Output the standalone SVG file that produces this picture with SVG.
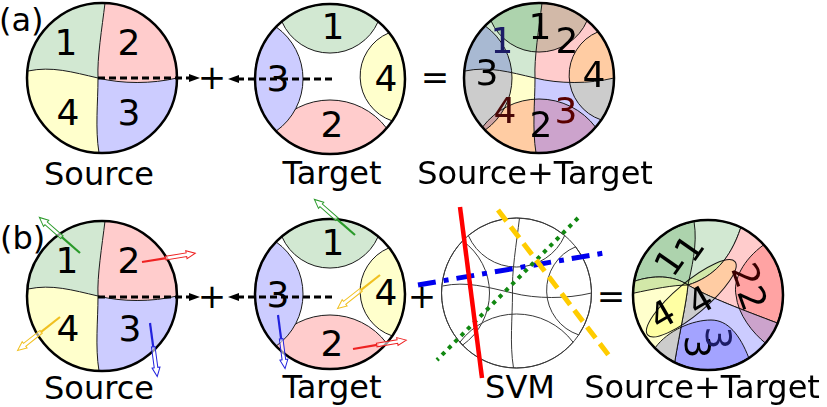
<svg xmlns="http://www.w3.org/2000/svg" width="827" height="407" viewBox="0 0 827 407">
<style>
text{font-family:"DejaVu Sans","Liberation Sans",sans-serif;fill:#000}
.lbl{font-size:32px;text-anchor:middle}
.dig{font-size:36px;text-anchor:middle}
.op{font-size:34px;text-anchor:middle}
.tag{font-size:32px}
.rim{fill:none;stroke:#000;stroke-width:2.5}
.ln{fill:none;stroke:#1a1a1a;stroke-width:1}
.ol{fill:none;stroke:#3a3a3a;stroke-width:1}
.g{fill:#d2e8d2}.p{fill:#ffcccc}.b{fill:#ccccff}.y{fill:#ffffcc}
.cap{stroke:#1a1a1a;stroke-width:1}
.mul{mix-blend-mode:multiply}
.dash{fill:none;stroke:#000;stroke-width:3;stroke-dasharray:7 4}
</style>
<defs>
<marker id="ah" viewBox="0 0 11 8" refX="0" refY="4" markerWidth="11" markerHeight="8" markerUnits="userSpaceOnUse" orient="auto"><path d="M0,0 L11,4 L0,8 Z" fill="#000"/></marker>
<path id="sq1" d="M-4,0 C-5,-20 0,-50 3,-75 A75,75 0 0,0 -74,-7 C-50,-12 -30,-6 -4,0 Z"/>
<path id="sq2" d="M-4,0 C-5,-20 0,-50 3,-75 A75,75 0 0,1 75,0 C50,6 20,6 -4,0 Z"/>
<path id="sq3" d="M-4,0 C20,6 50,6 75,0 A75,75 0 0,1 -3,75 C-7,50 -4,25 -4,0 Z"/>
<path id="sq4" d="M-4,0 C-4,25 -7,50 -3,75 A75,75 0 0,1 -74,-7 C-50,-12 -30,-6 -4,0 Z"/>
<path id="vline" d="M3,-75 C0,-50 -5,-20 -4,0 C-4,25 -7,50 -3,75"/>
<path id="hline" d="M-74,-7 C-50,-12 -30,-6 -4,0 C20,6 50,6 75,0"/>
<path id="tc1" d="M-48.2,-57.5 A52.6,52.6 0 0,0 48.2,-57.5 A75,75 0 0,0 -48.2,-57.5 Z"/>
<path id="tc2" d="M56.6,49.2 A70.9,70.9 0 0,0 -56.6,49.2 A75,75 0 0,0 56.6,49.2 Z"/>
<path id="tc3" d="M-53.9,-52.1 A63.9,63.9 0 0,1 -53.9,52.1 A75,75 0 0,1 -53.9,-52.1 Z"/>
<path id="tc4" d="M59.1,-46.2 A47.1,47.1 0 0,0 62.2,41.9 A75,75 0 0,0 59.1,-46.2 Z"/>
<g id="arr">
<line x1="0" y1="0" x2="26" y2="0" stroke="currentColor" stroke-width="2.2"/>
<path d="M24,-1.8 H45 V-4 L54,0 L45,4 V1.8 H24 Z" fill="#fff" fill-opacity="0.6" stroke="currentColor" stroke-width="1"/>
</g>
</defs>

<rect width="827" height="407" fill="#fff"/>

<text class="tag" x="-1" y="31">(a)</text>
<text class="tag" x="0" y="249">(b)</text>

<!-- (a) Source -->
<g id="a-source">
<g transform="translate(102,78)">
<use href="#sq1" class="g"/><use href="#sq2" class="p"/><use href="#sq3" class="b"/><use href="#sq4" class="y"/>
<use href="#vline" class="ln"/><use href="#hline" class="ln"/>
<circle r="75" class="rim"/>
</g>
<text class="dig" x="66" y="55">1</text>
<text class="dig" x="129" y="55">2</text>
<text class="dig" x="68" y="125">4</text>
<text class="dig" x="129" y="125">3</text>
<text class="lbl" x="99" y="185">Source</text>
</g>

<!-- (a) Target -->
<g id="a-target">
<g transform="translate(330,79)">
<circle r="75" fill="#fff"/>
<use href="#tc1" class="g cap"/><use href="#tc2" class="p cap"/><use href="#tc3" class="b cap"/><use href="#tc4" class="y cap"/>
<circle r="75" class="rim"/>
</g>
<text class="dig" x="333" y="39">1</text>
<text class="dig" x="278" y="91">3</text>
<text class="dig" x="386" y="91">4</text>
<text class="dig" x="332" y="137">2</text>
<text class="lbl" x="332" y="184">Target</text>
</g>

<!-- (a) Source+Target -->
<g id="a-sum" style="isolation:isolate">
<g transform="translate(539,78)">
<use href="#sq1" class="g"/><use href="#sq2" class="p"/><use href="#sq3" class="b"/><use href="#sq4" class="y"/>
<use href="#tc1" class="g cap mul"/><use href="#tc2" class="p cap mul"/><use href="#tc3" class="b cap mul"/><use href="#tc4" class="y cap mul"/>
<use href="#vline" class="ln"/><use href="#hline" class="ln"/>
<circle r="75" class="rim"/>
</g>
<text class="dig" x="502" y="53" style="fill:#1c1c66">1</text>
<text class="dig" x="540" y="39">1</text>
<text class="dig" x="567" y="53">2</text>
<text class="dig" x="487" y="85">3</text>
<text class="dig" x="594" y="87">4</text>
<text class="dig" x="505" y="123" style="fill:#4a0808">4</text>
<text class="dig" x="541" y="137">2</text>
<text class="dig" x="566" y="123" style="fill:#5a0000">3</text>
<text class="lbl" x="535" y="184">Source+Target</text>
</g>

<text class="op" x="212" y="89">+</text>
<text class="op" x="435" y="89">=</text>

<!-- (b) Source -->
<g id="b-source">
<g transform="translate(102,296)">
<use href="#sq1" class="g"/><use href="#sq2" class="p"/><use href="#sq3" class="b"/><use href="#sq4" class="y"/>
<use href="#vline" class="ln"/><use href="#hline" class="ln"/>
<circle r="75" class="rim"/>
</g>
<text class="dig" x="67" y="273">1</text>
<text class="dig" x="129" y="273">2</text>
<text class="dig" x="68" y="341">4</text>
<text class="dig" x="130" y="341">3</text>
<use href="#arr" transform="translate(80,253) rotate(-138.8)" style="color:#2a9a2a"/>
<use href="#arr" transform="translate(142,262) rotate(-9.3)" style="color:#ee2222"/>
<use href="#arr" transform="translate(60,317) rotate(141.8)" style="color:#f0c020"/>
<use href="#arr" transform="translate(150,323) rotate(82.3)" style="color:#2222dd"/>
<text class="lbl" x="99" y="399">Source</text>
</g>

<!-- (b) Target -->
<g id="b-target">
<g transform="translate(330,294)">
<circle r="75" fill="#fff"/>
<use href="#tc1" class="g cap"/><use href="#tc2" class="p cap"/><use href="#tc3" class="b cap"/><use href="#tc4" class="y cap"/>
<circle r="75" class="rim"/>
</g>
<text class="dig" x="333" y="255">1</text>
<text class="dig" x="278" y="307">3</text>
<text class="dig" x="386" y="305">4</text>
<text class="dig" x="332" y="356">2</text>
<use href="#arr" transform="translate(355,235) rotate(-138.8)" style="color:#2a9a2a"/>
<use href="#arr" transform="translate(380,275) rotate(141.8)" style="color:#f0c020"/>
<use href="#arr" transform="translate(353,349) rotate(-9.5)" style="color:#ee2222"/>
<use href="#arr" transform="translate(278,315) rotate(82.5)" style="color:#2222dd"/>
<text class="lbl" x="332" y="398">Target</text>
</g>

<!-- (b) SVM -->
<g id="b-svm">
<g transform="translate(516.5,293)">
<use href="#tc1" class="ol"/><use href="#tc2" class="ol"/><use href="#tc3" class="ol"/><use href="#tc4" class="ol"/>
<use href="#vline" class="ol"/><use href="#hline" class="ol"/>
<circle r="75" class="ol"/>
</g>
<path d="M418,285 L610,252" fill="none" stroke="#0000ee" stroke-width="5" stroke-dasharray="18 8 5 8"/>
<path d="M578,218 L437,360" fill="none" stroke="#118811" stroke-width="4" stroke-dasharray="4 5"/>
<path d="M498,210 L610,357" fill="none" stroke="#ffcc00" stroke-width="5" stroke-dasharray="14 7"/>
<path d="M460,207 L482,378" fill="none" stroke="#ff0000" stroke-width="4.5"/>
<text class="lbl" x="520" y="398">SVM</text>
</g>

<!-- (b) Source+Target -->
<g id="b-sum" style="isolation:isolate">
<g transform="translate(708,295)">
<path class="g cap" d="M-20,-10 C5,-18 22,-35 32.8,-67.4 A75,75 0 0,0 -73.7,-13.7 C-55,-20 -35,-20 -20,-10 Z"/>
<path class="p cap" d="M-20,-10 C5,-18 22,-35 32.8,-67.4 A75,75 0 0,1 69.5,28.1 C35,15 0,2 -20,-10 Z"/>
<path class="b cap" d="M-20,-10 C0,2 35,15 69.5,28.1 A75,75 0 0,1 -33.3,67.2 C-28,35 -22,10 -20,-10 Z"/>
<path class="y cap" d="M-20,-10 C-22,10 -28,35 -33.3,67.2 A75,75 0 0,1 -73.7,-13.7 C-55,-20 -35,-20 -20,-10 Z"/>
<path class="g cap mul" d="M-20,-10 C-17,-25 -10,-50 -14,-73.7 A75,75 0 0,0 -75,-1.7 C-55,-6 -35,-10 -20,-10 Z"/>
<path class="p cap mul" d="M55.7,-50.2 C35,-35 25,-15 28,0 C30,20 45,38 57.5,48.2 A75,75 0 0,0 55.7,-50.2 Z"/>
<path class="b cap mul" d="M-53,53 C-40,35 -15,25 3,25 C20,25 32,40 40.8,62.9 A75,75 0 0,1 -53,53 Z"/>
<ellipse class="y cap mul" cx="-16.7" cy="3.3" rx="57" ry="16" transform="rotate(-40 -16.7 3.3)"/>
<circle r="75" class="rim"/>
</g>
<text class="dig" transform="translate(669,262) rotate(-55)" y="13">1</text>
<text class="dig" transform="translate(689,248) rotate(-55)" y="13">1</text>
<text class="dig" transform="translate(747,275) rotate(70)" y="13" style="fill:#3a0000">2</text>
<text class="dig" transform="translate(753,298) rotate(70)" y="13">2</text>
<text class="dig" transform="translate(662,314) rotate(-30)" y="13">4</text>
<text class="dig" transform="translate(700,300) rotate(-30)" y="13">4</text>
<text class="dig" transform="translate(698,347) rotate(90)" y="13">3</text>
<text class="dig" transform="translate(719,338) rotate(90)" y="13" style="fill:#1c1c66">3</text>
<text class="lbl" x="702" y="398">Source+Target</text>
</g>

<text class="op" x="212" y="308">+</text>
<text class="op" x="422" y="308">+</text>
<text class="op" x="611" y="308">=</text>

<!-- connectors -->
<g id="connectors">
<path class="dash" d="M98,78 H189" marker-end="url(#ah)"/>
<path class="dash" d="M332,79 H239" marker-end="url(#ah)"/>
<path class="dash" d="M98,297 H189" marker-end="url(#ah)"/>
<path class="dash" d="M332,297 H239" marker-end="url(#ah)"/>
</g>
</svg>
